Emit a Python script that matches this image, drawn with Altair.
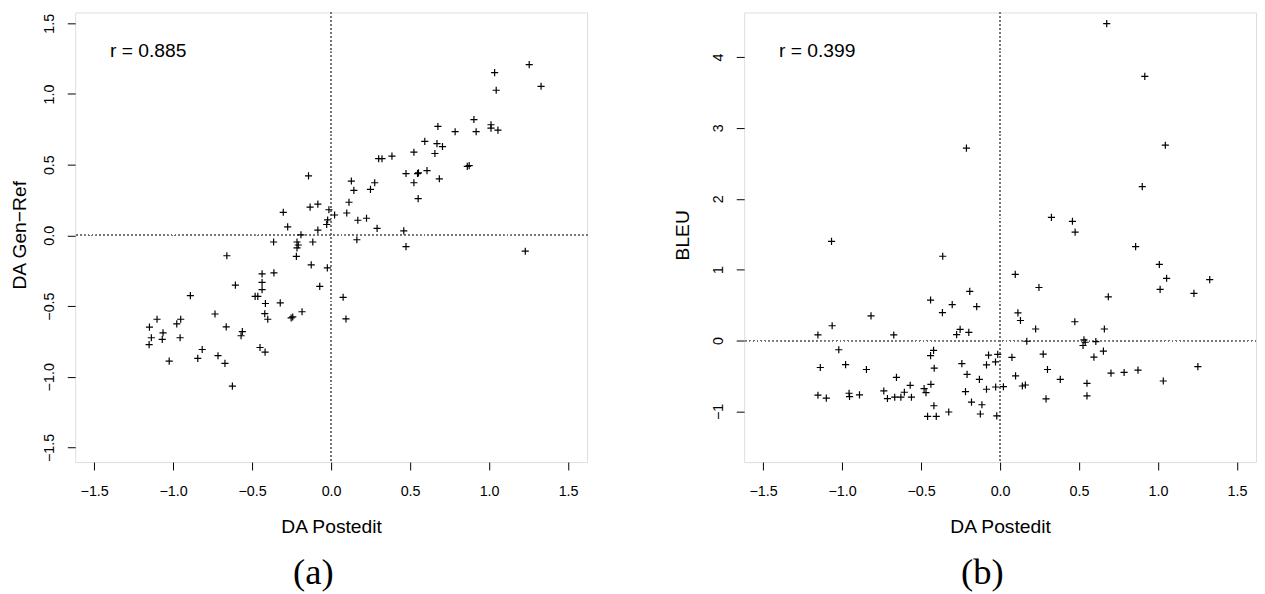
import altair as alt
import pandas as pd

# ---------------- data ----------------
# Panel (a): DA Postedit vs DA Gen-Ref
A_X = [-0.660, -0.364, -0.216, -0.208, -0.216, -0.116, -0.220, -0.126, -0.024, -0.072,
       -0.437, -0.362, -0.606, -0.437, -0.437, -0.891, -0.481, -0.464, -0.416, -0.322,
       -0.735, -0.420, -0.401, -0.253, -0.243, -0.184, -1.102, -1.150, -0.977, -0.952,
       -0.664, -1.064, -1.138, -1.069, -0.956, -0.562, -0.570, -1.152, -0.816, -0.450,
       -0.418, -1.025, -0.844, -0.716, -0.672, -0.625, 0.593, 0.524, 0.301, 0.322,
       0.385, -0.143, 0.474, 0.547, 0.553, 0.607, 0.128, 0.276, 0.524, 0.144,
       0.249, 0.551, 0.113, -0.133, -0.084, -0.303, -0.014, 0.022, 0.099, -0.022,
       -0.028, 0.169, 0.224, -0.275, -0.084, 0.291, 0.460, -0.191, 0.163, 0.474,
       0.076, 0.094, 1.254, 1.035, 1.329, 1.045, 0.904, 0.676, 0.785, 1.012,
       1.012, 0.918, 1.056, 0.670, 0.705, 0.657, 0.862, 0.874, 0.685, 1.229]
A_Y = [-0.144, -0.047, -0.047, -0.068, -0.089, -0.047, -0.149, -0.209, -0.230, -0.361,
       -0.272, -0.265, -0.352, -0.333, -0.384, -0.426, -0.431, -0.431, -0.482, -0.477,
       -0.556, -0.554, -0.593, -0.584, -0.577, -0.540, -0.593, -0.649, -0.626, -0.593,
       -0.647, -0.689, -0.724, -0.736, -0.724, -0.680, -0.710, -0.773, -0.807, -0.793,
       -0.826, -0.889, -0.870, -0.851, -0.905, -1.066, 0.665, 0.588, 0.542, 0.542,
       0.560, 0.421, 0.437, 0.437, 0.442, 0.458, 0.384, 0.372, 0.372, 0.318,
       0.325, 0.260, 0.234, 0.200, 0.221, 0.163, 0.181, 0.144, 0.158, 0.109,
       0.077, 0.107, 0.121, 0.060, 0.037, 0.049, 0.032, 0.004, -0.031, -0.080,
       -0.438, -0.591, 1.207, 1.151, 1.054, 1.026, 0.819, 0.770, 0.733, 0.782,
       0.758, 0.733, 0.744, 0.649, 0.628, 0.579, 0.488, 0.493, 0.400, -0.112]

# Panel (b): DA Postedit vs BLEU
B_X = [0.675, 0.916, 1.046, -0.213, 0.900, 0.325, 0.458, 0.475, -1.067, 0.858,
       -0.363, 1.008, 0.096, 1.054, 1.327, 0.246, 1.013, -0.192, 1.227, 0.685,
       -0.440, -0.365, -0.817, -1.063, -1.153, -0.673, -1.021, -0.421, -0.440, -1.138,
       -0.978, -0.846, -0.417, -0.656, -0.569, -0.438, -0.481, -0.469, -1.153, -1.100,
       -0.956, -0.953, -0.890, -0.736, -0.713, -0.667, -0.628, -0.606, -0.561, -0.419,
       -0.459, -0.404, -0.303, -0.148, 0.113, 0.129, 0.225, 0.473, 0.660, -0.253,
       -0.275, -0.198, 0.169, 0.531, 0.539, 0.525, 0.606, 0.654, -0.073, -0.015,
       0.075, 0.273, 0.594, -0.242, -0.086, -0.029, 0.300, -0.209, -0.131, 0.098,
       0.381, -0.086, -0.028, 0.021, 0.141, 0.160, 0.550, -0.219, 0.550, -0.181,
       -0.115, 0.291, -0.325, -0.125, -0.021, 0.702, 0.785, 0.873, 1.252, 1.033]
B_Y = [4.470, 3.725, 2.755, 2.714, 2.170, 1.738, 1.682, 1.529, 1.398, 1.324,
       1.189, 1.073, 0.934, 0.878, 0.860, 0.748, 0.721, 0.693, 0.665, 0.617,
       0.571, 0.394, 0.348, 0.209, 0.079, 0.079, -0.130, -0.139, -0.213, -0.380,
       -0.339, -0.408, -0.390, -0.520, -0.631, -0.617, -0.679, -0.734, -0.771, -0.813,
       -0.743, -0.790, -0.767, -0.711, -0.818, -0.799, -0.799, -0.729, -0.799, -0.920,
       -1.069, -1.069, 0.506, 0.478, 0.390, 0.283, 0.163, 0.265, 0.163, 0.157,
       0.084, 0.116, -0.010, 0.010, -0.024, -0.070, -0.014, -0.149, -0.205, -0.195,
       -0.237, -0.191, -0.233, -0.325, -0.344, -0.302, -0.408, -0.478, -0.548, -0.498,
       -0.548, -0.687, -0.655, -0.651, -0.641, -0.627, -0.603, -0.721, -0.780, -0.868,
       -0.906, -0.822, -1.008, -1.036, -1.063, -0.460, -0.450, -0.418, -0.367, -0.571]

X_TICKS = [-1.5, -1.0, -0.5, 0.0, 0.5, 1.0, 1.5]
A_Y_TICKS = [-1.5, -1.0, -0.5, 0.0, 0.5, 1.0, 1.5]
B_Y_TICKS = [-1, 0, 1, 2, 3, 4]
X_TITLE = "DA Postedit"
Y_TITLES = ["DA Gen\u2212Ref", "BLEU"]
R_TEXTS = ["r = 0.885", "r = 0.399"]
R_POS = [(-1.40, 1.258), (-1.40, 4.0)]
TAGS = ["(a)", "(b)"]

W, H = 518, 455
FONT = "Liberation Sans"
PLUS = "M-1,0L1,0M0,-1L0,1"


def panel(xs, ys, yticks, yfmt, ydom, ytitle, rtext, rpos, tag, title_x):
    df = pd.DataFrame({"x": xs, "y": ys})
    xscale = alt.Scale(domain=[-1.62, 1.62], nice=False, zero=False)
    yscale = alt.Scale(domain=ydom, nice=False, zero=False)
    xaxis = alt.Axis(values=X_TICKS, format=".1f", title=X_TITLE, grid=False, domain=False,
                     tickSize=8, tickColor="black", tickWidth=1,
                     labelFont=FONT, labelFontSize=14.5, labelColor="black",
                     labelBaseline="alphabetic", labelPadding=26, labelFlush=False,
                     labelOverlap=False,
                     titleFont=FONT, titleFontSize=19.5, titleFontWeight="normal",
                     titleColor="black", titleBaseline="alphabetic", titleX=W / 2,
                     titleY=71)
    yaxis = alt.Axis(values=yticks, format=yfmt, title=ytitle, grid=False, domain=False,
                     tickSize=8, tickColor="black", tickWidth=1,
                     labelFont=FONT, labelFontSize=14.5, labelColor="black",
                     labelAngle=270, labelAlign="center", labelBaseline="alphabetic",
                     labelPadding=13.5, labelFlush=False, labelOverlap=False,
                     titleFont=FONT, titleFontSize=19.5, titleFontWeight="normal",
                     titleColor="black", titleAngle=270, titleAlign="center",
                     titleBaseline="alphabetic", titleX=title_x, titleY=225)

    base = alt.Chart(df)
    pts = base.mark_point(shape=PLUS, filled=False, stroke="black", strokeWidth=1.2,
                          size=52, opacity=1).encode(
        x=alt.X("x:Q", scale=xscale, axis=xaxis),
        y=alt.Y("y:Q", scale=yscale, axis=yaxis),
    )
    hline = base.mark_rule(color="#777777", strokeDash=[1, 3], strokeWidth=1).encode(
        y=alt.datum(0, scale=yscale))
    vline = base.mark_rule(color="#777777", strokeDash=[1, 3], strokeWidth=1).encode(
        x=alt.datum(0, scale=xscale))
    rdf = pd.DataFrame({"t": [rtext], "x": [rpos[0]], "y": [rpos[1]]})
    rt = alt.Chart(rdf).mark_text(font=FONT, fontSize=19.5, align="left",
                                  baseline="alphabetic", color="black").encode(
        x=alt.X("x:Q", scale=xscale), y=alt.Y("y:Q", scale=yscale), text="t:N")
    tdf = pd.DataFrame({"t": [tag]})
    tg = alt.Chart(tdf).mark_text(font="Liberation Serif", fontSize=37, align="center",
                                  baseline="alphabetic", color="black").encode(
        x=alt.value(241), y=alt.value(578), text="t:N")
    return alt.layer(hline, vline, pts, rt, tg).properties(width=W, height=H)


left = panel(A_X, A_Y, A_Y_TICKS, ".1f", [-1.603, 1.576], Y_TITLES[0], R_TEXTS[0],
             R_POS[0], TAGS[0], -50.6)
right = panel(B_X, B_Y, B_Y_TICKS, "d", [-1.714, 4.627], Y_TITLES[1], R_TEXTS[1],
              R_POS[1], TAGS[1], -56)

chart = alt.hconcat(left, right, spacing=85).properties(padding=0).configure_view(
    stroke="black", strokeWidth=1).configure(background="white")

chart.save("out.html", embed_options={"renderer": "svg", "actions": False})
